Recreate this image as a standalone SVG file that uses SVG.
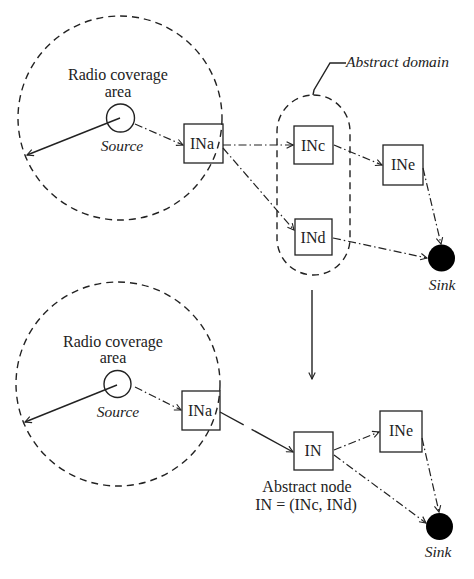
<svg xmlns="http://www.w3.org/2000/svg" width="474" height="579" viewBox="0 0 474 579">
<defs>
<style>
.bg{fill:#fff}
.area{fill:none;stroke:#222;stroke-width:1.4;stroke-dasharray:7,5}
.box{fill:none;stroke:#222;stroke-width:1.3}
.src{fill:none;stroke:#222;stroke-width:1.4}
.sink{fill:#000}
.t{font-family:"Liberation Serif",serif;font-size:16px;fill:#222;text-anchor:middle}
.i{font-family:"Liberation Serif",serif;font-size:15.5px;font-style:italic;fill:#222;text-anchor:middle}
.dd{fill:none;stroke:#222;stroke-width:1.2;stroke-dasharray:8,3,1.5,3;marker-end:url(#ah)}
.sol{fill:none;stroke:#222;stroke-width:1.4;marker-end:url(#ah)}
.ld{fill:none;stroke:#222;stroke-width:1.4;stroke-dasharray:27,9,60;marker-end:url(#ah)}
</style>
<marker id="ah" viewBox="0 0 10 10" refX="9" refY="5" markerWidth="8" markerHeight="8" markerUnits="userSpaceOnUse" orient="auto">
<path d="M1,1 L9,5 L1,9" fill="none" stroke="#222" stroke-width="1.4"/>
</marker>
</defs>
<rect class="bg" x="0" y="0" width="474" height="579"/>

<g id="area-top">
<circle class="area" cx="120" cy="118" r="102"/>
<text class="t" x="118" y="80">Radio coverage</text>
<text class="t" x="118" y="97">area</text>
</g>
<g id="domain">
<rect class="area" x="277" y="95" width="73" height="180" rx="36.5" ry="36.5"/>
<path d="M313,95 L314,90 L330,63 L346,63" fill="none" stroke="#222" stroke-width="1.4"/>
<text class="i" x="346" y="67" style="text-anchor:start">Abstract domain</text>
</g>
<g id="area-bottom">
<circle class="area" cx="118" cy="384" r="102"/>
<text class="t" x="113" y="347">Radio coverage</text>
<text class="t" x="113" y="363">area</text>
</g>

<g id="connectors">
<line class="sol" x1="120" y1="118" x2="27" y2="155"/>
<line class="dd" x1="135" y1="124" x2="183" y2="145"/>
<line class="dd" x1="223" y1="145" x2="293" y2="145"/>
<line class="dd" x1="223" y1="148" x2="294" y2="230"/>
<line class="dd" x1="334" y1="145" x2="382" y2="165"/>
<line class="dd" x1="423" y1="168" x2="441" y2="244"/>
<line class="dd" x1="333" y1="238" x2="427" y2="258"/>
<line class="sol" x1="312" y1="290" x2="312" y2="379"/>
<line class="sol" x1="117" y1="385" x2="25" y2="422"/>
<line class="dd" x1="135" y1="387" x2="181" y2="410"/>
<line class="ld" x1="220" y1="412" x2="293" y2="452"/>
<line class="dd" x1="334" y1="450" x2="379" y2="432"/>
<line class="dd" x1="334" y1="455" x2="426" y2="523"/>
<line class="dd" x1="422" y1="438" x2="439" y2="512"/>
</g>

<g id="source-top">
<circle class="src" cx="120.5" cy="118" r="14"/>
<text class="i" x="122" y="151">Source</text>
</g>
<g id="INa-top">
<rect class="box" x="184" y="124" width="39" height="39"/>
<text class="t" x="202" y="149">INa</text>
</g>
<g id="INc">
<rect class="box" x="294" y="126" width="39" height="38"/>
<text class="t" x="313" y="151">INc</text>
</g>
<g id="INd">
<rect class="box" x="295" y="219" width="37" height="36"/>
<text class="t" x="313" y="243">INd</text>
</g>
<g id="INe-top">
<rect class="box" x="383" y="145" width="40" height="40"/>
<text class="t" x="403" y="170">INe</text>
</g>
<g id="sink-top">
<circle class="sink" cx="441.5" cy="258" r="13.5"/>
<text class="i" x="442" y="290">Sink</text>
</g>

<g id="source-bottom">
<circle class="src" cx="117.5" cy="384" r="13.5"/>
<text class="i" x="118" y="417">Source</text>
</g>
<g id="INa-bottom">
<rect class="box" x="182" y="391" width="38" height="39"/>
<text class="t" x="200" y="416">INa</text>
</g>
<g id="IN">
<rect class="box" x="294" y="432" width="39" height="38"/>
<text class="t" x="313" y="456">IN</text>
<text class="t" x="307" y="492">Abstract node</text>
<text class="t" x="306" y="510">IN = (INc, INd)</text>
</g>
<g id="INe-bottom">
<rect class="box" x="380" y="411" width="42" height="41"/>
<text class="t" x="401" y="436">INe</text>
</g>
<g id="sink-bottom">
<circle class="sink" cx="439.5" cy="526.5" r="13.5"/>
<text class="i" x="438" y="557">Sink</text>
</g>
</svg>
